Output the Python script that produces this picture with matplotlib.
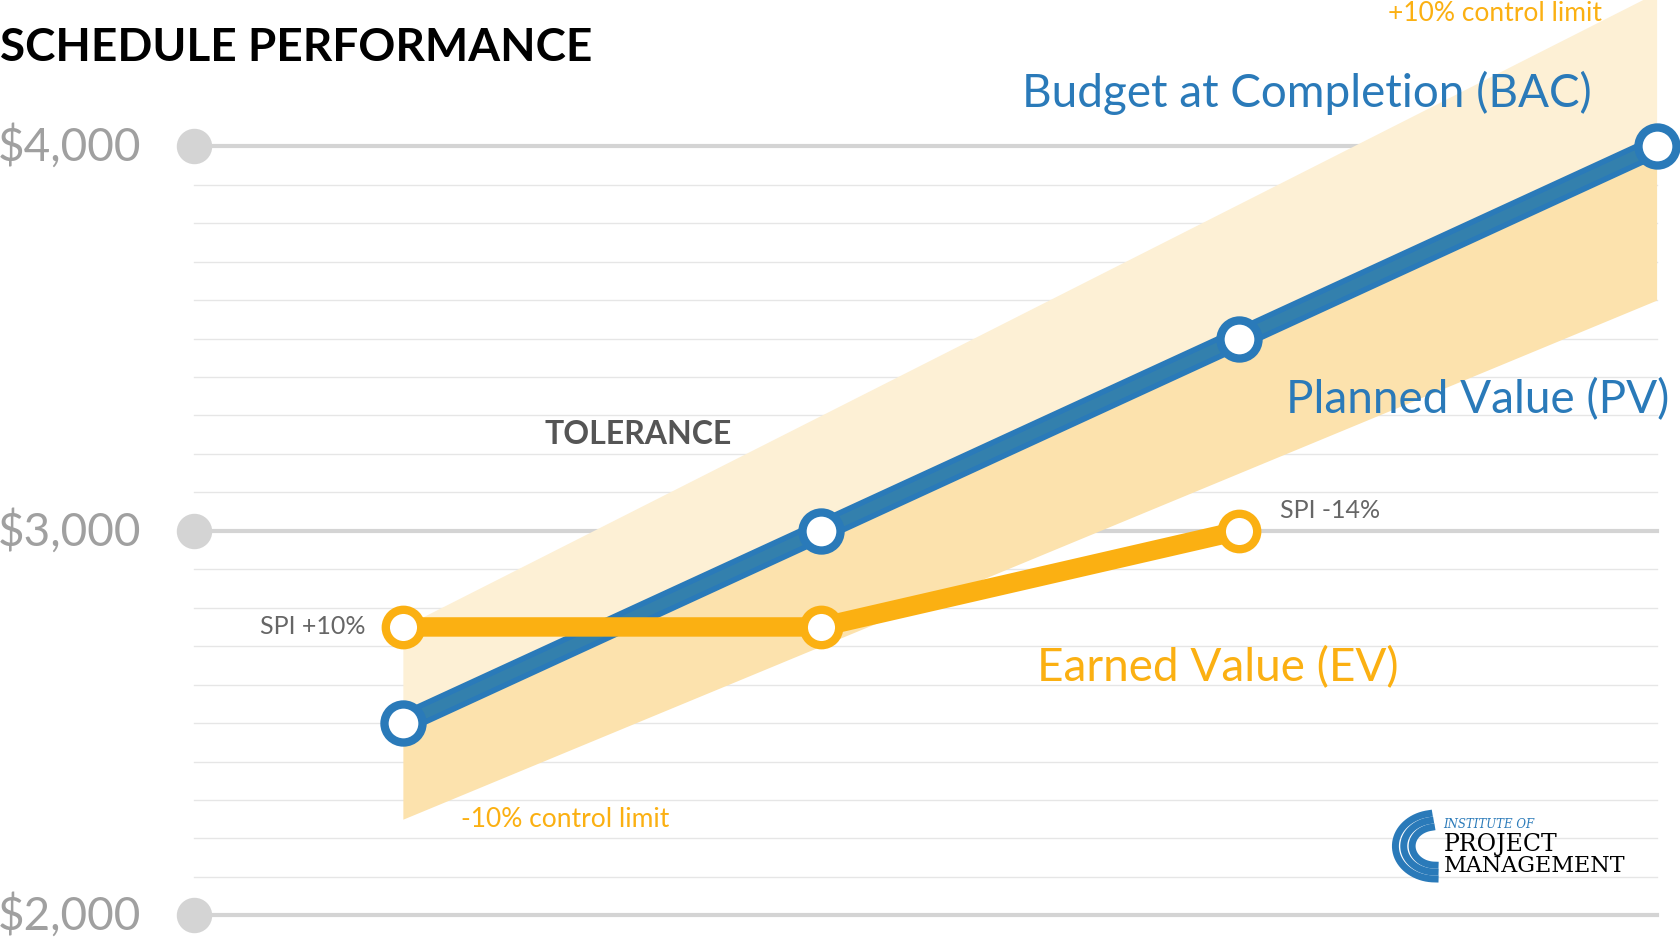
import matplotlib
matplotlib.use("Agg")
import matplotlib.pyplot as plt
import numpy as np

x = [0, 1, 2, 3]
pv = [2500, 3000, 3500, 4000]
ev_x = [0, 1, 2]
ev = [2750, 2750, 3000]
tol = 0.10
major = [2000, 3000, 4000]
major_labels = ["$2,000", "$3,000", "$4,000"]

blue = "#2a7ab9"; orange = "#fbb012"
fig = plt.figure(figsize=(16.8, 9.42), dpi=100)
ax = fig.add_axes([0, 0, 1, 1])
ax.set_xlim(-0.964, 3.056); ax.set_ylim(1930.6, 4380.6)
ax.axis("off")
xl, xr = -0.50, 3.0
for v in range(2000, 4001, 100):
    if v not in major:
        ax.plot([xl, xr], [v, v], color="#e6e6e6", lw=1, zorder=0)
for v, lab in zip(major, major_labels):
    ax.plot([xl, xr], [v, v], color="#d4d4d4", lw=3, zorder=0)
    ax.scatter([xl], [v], s=600, color="#d4d4d4", zorder=1)
    ax.text(-0.625, v, lab, ha="right", va="center", fontsize=33, color="#a0a0a0", family="Lato")
pva = np.array(pv, float)
ax.fill_between(x, pva, pva*(1+tol), color="#fdf0d5", lw=0, zorder=1)
ax.fill_between(x, pva*(1-tol), pva, color="#fce2ad", lw=0, zorder=1)
ax.plot(x, pv, color=blue, lw=16, zorder=3, solid_capstyle="round")
ax.plot(x, pv, color="#3d86a3", lw=8, zorder=3, alpha=0.5)
ax.scatter(x, pv, s=750, color="white", edgecolors=blue, linewidths=6, zorder=4)
ax.plot(ev_x, ev, color=orange, lw=14, zorder=5)
ax.scatter(ev_x, ev, s=650, color="white", edgecolors=orange, linewidths=6, zorder=6)
ax.text(-0.964, 4255, "SCHEDULE PERFORMANCE", fontsize=33, fontweight="bold", family="Lato", va="center", color="black")
ax.text(2.846, 4140, "Budget at Completion (BAC)", fontsize=33, color=blue, family="Lato", ha="right", va="center")
ax.text(3.03, 3340, "Planned Value (PV)", fontsize=33, color=blue, family="Lato", ha="right", va="center")
ax.text(1.518, 2645, "Earned Value (EV)", fontsize=33, color=orange, family="Lato", ha="left", va="center")
ax.text(2.87, 4345, "+10% control limit", fontsize=19, color=orange, family="Lato", ha="right", va="center")
ax.text(0.14, 2250, "-10% control limit", fontsize=19, color=orange, family="Lato", ha="left", va="center")
ax.text(-0.09, 2750, "SPI +10%", fontsize=18, color="#666666", family="Lato", ha="right", va="center")
ax.text(2.1, 3052, "SPI -14%", fontsize=18, color="#666666", family="Lato", ha="left", va="center")
ax.text(0.34, 3250, "TOLERANCE", fontsize=23, color="#555555", fontweight="bold", family="Lato", ha="left", va="center")
ax.text(2.49, 2235, "INSTITUTE OF", fontsize=8.5, color=blue, style="italic", family="DejaVu Serif", ha="left", va="center")
ax.text(2.49, 2185, "PROJECT", fontsize=17, color="black", family="DejaVu Serif", ha="left", va="center")
ax.text(2.49, 2128, "MANAGEMENT", fontsize=16, color="black", family="DejaVu Serif", ha="left", va="center")
for i, r in enumerate([0.095, 0.075, 0.055]):
    t = np.linspace(np.pi*0.55, np.pi*1.5, 40)
    ax.plot(2.47 + r*np.cos(t), 2180 + r*900*np.sin(t), color=blue, lw=5)
fig.savefig("out.png", dpi=100)
